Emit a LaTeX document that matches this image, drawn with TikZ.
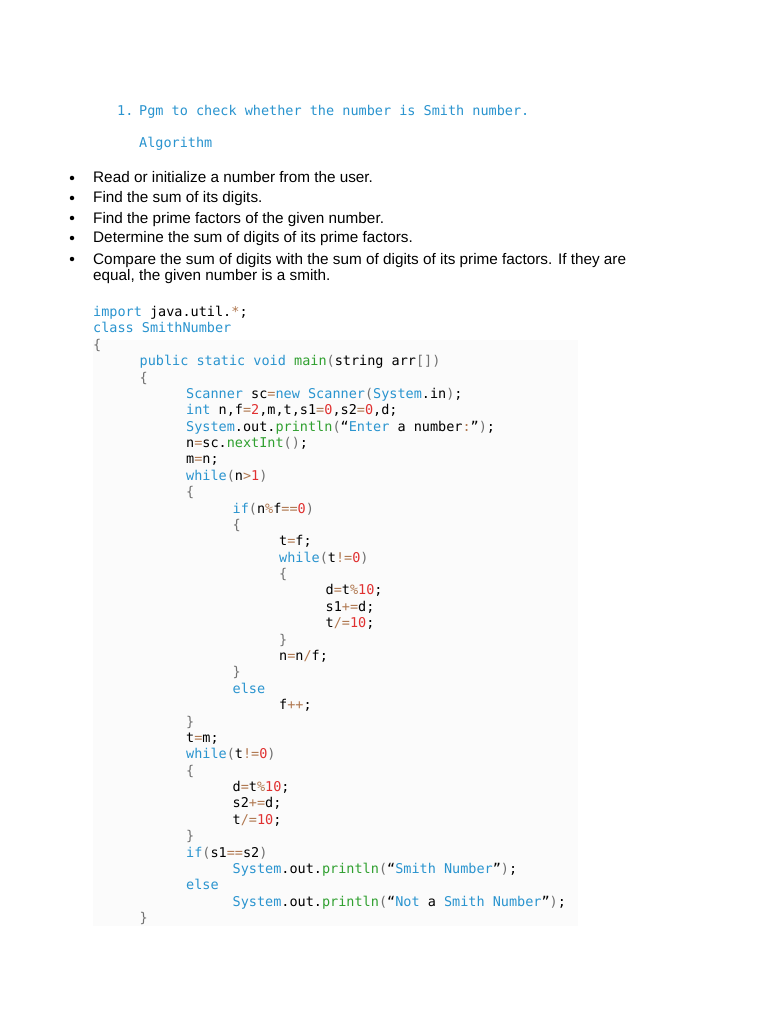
\documentclass[tikz,border=0pt]{standalone}
\usepackage{fontspec}
\setmainfont{Liberation Sans}
\setmonofont{DejaVu Sans Mono}
\definecolor{kw}{HTML}{2A94CF}
\definecolor{fn}{HTML}{30A030}
\definecolor{nm}{HTML}{E03030}
\definecolor{op}{HTML}{B07850}
\definecolor{pu}{HTML}{707070}
\newcommand{\kw}[1]{\textcolor{kw}{#1}}
\newcommand{\fn}[1]{\textcolor{fn}{#1}}
\newcommand{\nm}[1]{\textcolor{nm}{#1}}
\newcommand{\op}[1]{\textcolor{op}{#1}}
\newcommand{\pu}[1]{\textcolor{pu}{#1}}
\begin{document}
\begin{tikzpicture}[x=1pt,y=-1pt,
  code/.style={anchor=base west,inner sep=0pt,font=\ttfamily\fontsize{13.5}{16}\selectfont},
  txt/.style={anchor=base west,inner sep=0pt,font=\fontsize{15.3}{18}\selectfont},
  bul/.style={circle,fill=black,inner sep=0pt,minimum size=4.5pt}]
\useasboundingbox (0,0) rectangle (768,1024);
\fill[white] (0,0) rectangle (768,1024);
\fill[black!1.5] (93,340) rectangle (578,926);
\node[code,text=kw] (h1) at (117,116) {1.};
\node[code,text=kw] (h2) at (139,116) {Pgm to check whether the number is Smith number.};
\node[code,text=kw] (h3) at (139,148) {Algorithm};
\foreach \y/\t [count=\i] in {183/Read or initialize a number from the user.,203/Find the sum of its digits.,223/Find the prime factors of the given number.,243/Determine the sum of digits of its prime factors.,264/{Compare the sum of digits with the sum of digits of its prime factors. If they are}}{
  \node[bul] (b\i) at (72,\y-5) {};
  \node[txt] (t\i) at (93,\y) {\t};
}
\node[txt] (t6) at (93,280) {equal, the given number is a smith.};
\def\L#1#2#3{\node[code] (c#1) at ({93+46.5*#2},{316.5+16.38*#1}) {#3};}
\L{0}{0}{\kw{import} java.util.\op{*};}
\L{1}{0}{\kw{class} \kw{SmithNumber}}
\L{2}{0}{\pu{\{}}
\L{3}{1}{\kw{public} \kw{static} \kw{void} \fn{main}\pu{(}string arr\pu{[])}}
\L{4}{1}{\pu{\{}}
\L{5}{2}{\kw{Scanner} sc\op{=}\kw{new} \kw{Scanner}\pu{(}\kw{System}.in\pu{)};}
\L{6}{2}{\kw{int} n,f\op{=}\nm{2},m,t,s1\op{=}\nm{0},s2\op{=}\nm{0},d;}
\L{7}{2}{\kw{System}.out.\fn{println}\pu{(}“\kw{Enter} a number\op{:}”\pu{)};}
\L{8}{2}{n\op{=}sc.\fn{nextInt}\pu{()};}
\L{9}{2}{m\op{=}n;}
\L{10}{2}{\kw{while}\pu{(}n\op{>}\nm{1}\pu{)}}
\L{11}{2}{\pu{\{}}
\L{12}{3}{\kw{if}\pu{(}n\op{\%}f\op{==}\nm{0}\pu{)}}
\L{13}{3}{\pu{\{}}
\L{14}{4}{t\op{=}f;}
\L{15}{4}{\kw{while}\pu{(}t\op{!=}\nm{0}\pu{)}}
\L{16}{4}{\pu{\{}}
\L{17}{5}{d\op{=}t\op{\%}\nm{10};}
\L{18}{5}{s1\op{+=}d;}
\L{19}{5}{t\op{/=}\nm{10};}
\L{20}{4}{\pu{\}}}
\L{21}{4}{n\op{=}n\op{/}f;}
\L{22}{3}{\pu{\}}}
\L{23}{3}{\kw{else}}
\L{24}{4}{f\op{++};}
\L{25}{2}{\pu{\}}}
\L{26}{2}{t\op{=}m;}
\L{27}{2}{\kw{while}\pu{(}t\op{!=}\nm{0}\pu{)}}
\L{28}{2}{\pu{\{}}
\L{29}{3}{d\op{=}t\op{\%}\nm{10};}
\L{30}{3}{s2\op{+=}d;}
\L{31}{3}{t\op{/=}\nm{10};}
\L{32}{2}{\pu{\}}}
\L{33}{2}{\kw{if}\pu{(}s1\op{==}s2\pu{)}}
\L{34}{3}{\kw{System}.out.\fn{println}\pu{(}“\kw{Smith} \kw{Number}”\pu{)};}
\L{35}{2}{\kw{else}}
\L{36}{3}{\kw{System}.out.\fn{println}\pu{(}“\kw{Not} a \kw{Smith} \kw{Number}”\pu{)};}
\L{37}{1}{\pu{\}}}
\end{tikzpicture}
\end{document}
